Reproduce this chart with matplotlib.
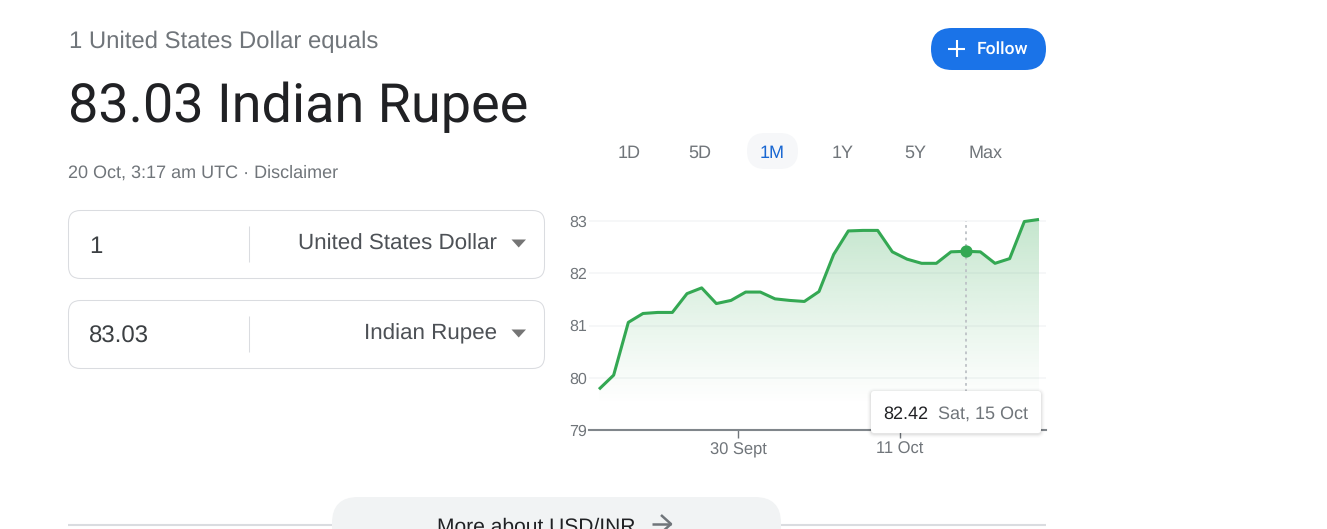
import matplotlib
matplotlib.use("Agg")
import numpy as np
import pandas as pd
import matplotlib.dates as mdates
import matplotlib.pyplot as plt
from matplotlib.patches import FancyBboxPatch, Polygon

plt.rcParams["text.hinting"] = "no_hinting"
plt.rcParams["lines.solid_capstyle"] = "butt"

W, H = 1327, 529

# USD/INR rates, one a day
rates = [79.78, 80.05, 81.06, 81.23, 81.25, 81.25, 81.61, 81.72, 81.42, 81.48,
         81.64, 81.64, 81.51, 81.48, 81.46, 81.65, 82.36, 82.81, 82.82, 82.82,
         82.41, 82.27, 82.19, 82.19, 82.41, 82.42, 82.41, 82.19, 82.28, 82.99, 83.03]
dates = pd.date_range("2022-09-20 12:00", periods=len(rates), freq="D")
y_ticks = [79, 80, 81, 82, 83]
x_ticks = ["2022-09-30", "2022-10-11"]
x_labels = ["30 Sept", "11 Oct"]
hover_date = "2022-10-15 12:00"
hover_rate = 82.42
tabs = ["1D", "5D", "1M", "1Y", "5Y", "Max"]

GREEN = "#34a853"
BODY = "Liberation Sans"


def px(size):
    return size * 0.72


fig = plt.figure(figsize=(W / 100, H / 100), dpi=100, facecolor="white")

# chart area, placed by pixel box
left, right, top, bottom = 589, 1046, 221, 430
ax = fig.add_axes([left / W, 1 - bottom / H, (right - left) / W, (bottom - top) / H])
ax.set_facecolor("none")
x_num = mdates.date2num(dates)
day_px = 14.667
ax.set_xlim(x_num[0] - 10 / day_px, x_num[-1] + 7 / day_px)
ax.set_ylim(y_ticks[0], y_ticks[-1])
for s in ["top", "left", "right"]:
    ax.spines[s].set_visible(False)
ax.spines["bottom"].set_color("#80868b")
ax.spines["bottom"].set_linewidth(1.5)
ax.set_yticks(y_ticks)
ax.set_yticklabels([str(v) for v in y_ticks], fontsize=px(16), color="#70757a", family=BODY)
ax.tick_params(axis="y", length=0, pad=1.5)
ax.set_xticks(mdates.date2num(pd.to_datetime(x_ticks)))
ax.set_xticklabels(x_labels, fontsize=px(16.5), color="#70757a", family=BODY)
ax.tick_params(axis="x", length=6, width=1, color="#70757a", pad=2.5)
for v in y_ticks[1:]:
    ax.axhline(v, color="#f6f7f8", lw=1.3, zorder=1, clip_on=False)

# fill under the line, fading down to white
grad = np.zeros((256, 2, 4))
grad[..., :3] = matplotlib.colors.to_rgb(GREEN)
grad[..., 3] = (np.linspace(0.34, 0, 256) ** 1.15)[:, None]
im = ax.imshow(grad, aspect="auto", zorder=2,
               extent=[x_num[0], x_num[-1], 79.45, max(rates)], origin="upper")
ax.set_xlim(x_num[0] - 10 / day_px, x_num[-1] + 7 / day_px)
ax.set_ylim(y_ticks[0], y_ticks[-1])
verts = list(zip(x_num, rates)) + [(x_num[-1], 79), (x_num[0], 79)]
clip = Polygon(verts, transform=ax.transData, facecolor="none", edgecolor="none")
ax.add_patch(clip)
im.set_clip_path(clip)

ax.plot(x_num, rates, color=GREEN, lw=2.2, zorder=3, clip_on=False, solid_joinstyle="round")
hover_x = mdates.date2num(pd.Timestamp(hover_date))
ax.plot([hover_x, hover_x], [y_ticks[0], y_ticks[-1]], color="#bdc1c6", lw=1.3,
        ls=(0, (1.5, 2)), zorder=3)
ax.plot([hover_x], [hover_rate], "o", color=GREEN, ms=8.8, mew=0, zorder=4)

# page furniture drawn over the chart, in pixel coordinates
ui = fig.add_axes([0, 0, 1, 1], zorder=5)
ui.set_xlim(0, W)
ui.set_ylim(H, 0)
ui.axis("off")
ui.patch.set_alpha(0)


def rbox(x0, y0, x1, y1, r, fc, ec="none", lw=1.0, z=2, alpha=None):
    p = FancyBboxPatch((x0 + r, y0 + r), x1 - x0 - 2 * r, y1 - y0 - 2 * r,
                       boxstyle=f"round,pad={r},rounding_size={r}",
                       fc=fc, ec=ec, lw=lw, zorder=z, alpha=alpha)
    ui.add_patch(p)


def label(x, y, s, size, color, ha="left", family=BODY, **kw):
    ui.text(x, y, s, fontsize=px(size), color=color, ha=ha, va="center_baseline",
            family=family, zorder=6, **kw)


label(69, 39, "1 United States Dollar equals", 23.9, "#70757a")
label(68, 102, "83.03 Indian Rupee", 54, "#202124", family="Roboto")
label(68, 171, "20 Oct, 3:17 am UTC · Disclaimer", 18, "#70757a")

# follow button
rbox(931, 28, 1046, 70, 21, "#1a73e8")
ui.plot([948, 965], [48.5, 48.5], color="white", lw=1.5, zorder=6)
ui.plot([956.5, 956.5], [40, 57], color="white", lw=1.5, zorder=6)
label(977, 47.5, "Follow", 17.5, "white", family="Roboto", weight="medium")

# range tabs
rbox(747, 133, 798, 169, 18, "#f6f7f9")
tab_x = [629, 700, 772, 843, 915, 986]
for x, t in zip(tab_x, tabs):
    label(x, 151, t, 18, "#1967d2" if t == "1M" else "#70757a", ha="center")

# converter boxes
boxes = [(210.5, "1", "United States Dollar"), (300.5, "83.03", "Indian Rupee")]
for y0, val, cur in boxes:
    rbox(68.5, y0, 544.5, y0 + 68, 12, "white", ec="#dadce0", lw=0.75)
    ui.plot([248.5, 248.5], [y0 + 15, y0 + 51], color="#dadce0", lw=0.75, zorder=3)
    label(89, y0 + 34, val, 24, "#3c4043")
    label(497, y0 + 31, cur, 22.4, "#4d5156", ha="right")
    ui.add_patch(Polygon([(511.5, y0 + 29), (526, y0 + 29), (518.7, y0 + 37)],
                         fc="#757575", ec="none", zorder=3))

# tooltip with a soft shadow
for grow, a in [(4, 0.012), (3, 0.02), (2, 0.03), (1, 0.04)]:
    rbox(871 - grow, 391 - grow + 1, 1041 + grow, 433 + grow + 1, 4 + grow, "black", z=3, alpha=a)
rbox(871, 391, 1041, 433, 3, "white", z=4)
label(883, 412, f"{hover_rate:.2f}", 18, "#202124")
label(938, 412, "Sat, 15 Oct", 18, "#70757a")

# bottom rule and cut-off button
ui.plot([68, 1046], [524.5, 524.5], color="#dadce0", lw=1.5, zorder=1)
rbox(332, 497, 781, 560, 26, "#f1f3f4")
label(437, 525.5, "More about USD/INR", 21, "#202124")
ui.plot([652, 671], [524, 524], color="#70757a", lw=1.8, zorder=6)
ui.plot([661, 671, 661], [515, 524, 533], color="#70757a", lw=1.8, zorder=6)

fig.savefig("out.png", dpi=100)
plt.close()
